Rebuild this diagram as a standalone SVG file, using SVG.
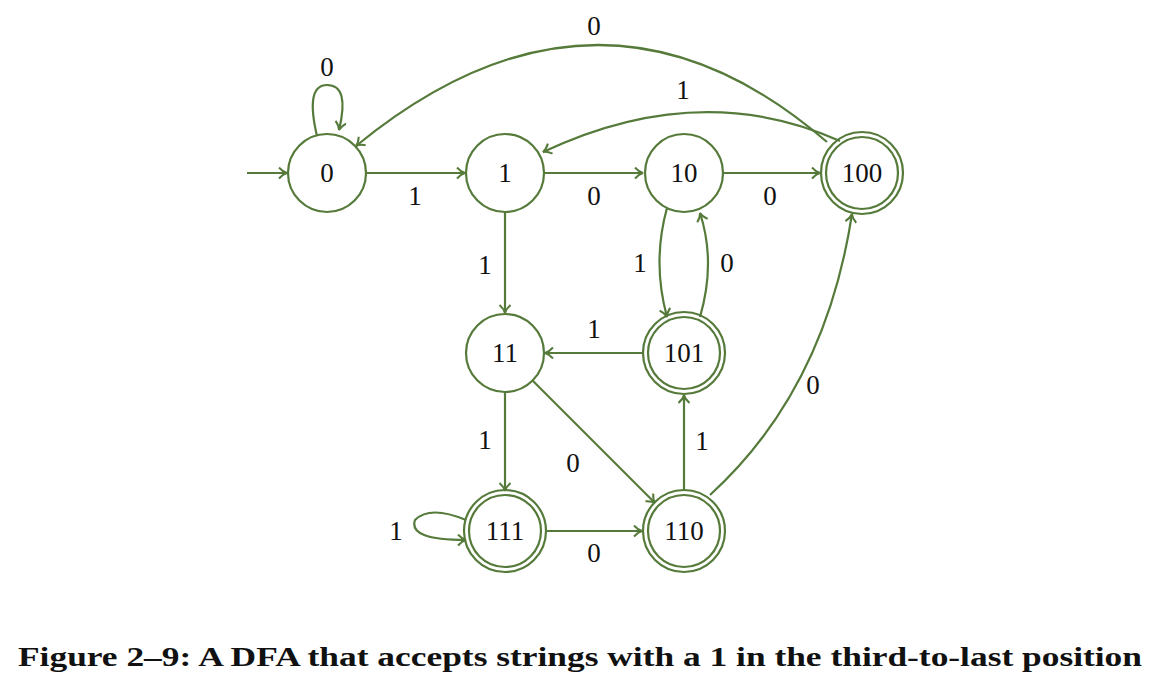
<svg xmlns="http://www.w3.org/2000/svg" width="1160" height="686" viewBox="0 0 1160 686">
<style>
.n{fill:none;stroke:#557a3a;stroke-width:2.2}
.e{fill:none;stroke:#557a3a;stroke-width:2.2;marker-end:url(#a)}
text{font-family:"Liberation Serif","DejaVu Serif",serif;font-size:27px;fill:#111;text-anchor:middle;dominant-baseline:central}
.cap{font-weight:bold;font-size:28px}
</style>
<defs><marker id="a" markerWidth="14" markerHeight="14" refX="10" refY="6" orient="auto" markerUnits="userSpaceOnUse"><path d="M2,0.5 Q6,5 10,6 Q6,7 2,11.5" fill="none" stroke="#557a3a" stroke-width="2"/></marker></defs>
<rect width="1160" height="686" fill="#fff"/>
<g id="connectors">
<path class="e" d="M247,173 H287"/>
<path class="e" d="M366,173 H465"/>
<path class="e" d="M544,173 H643"/>
<path class="e" d="M723,173 H820"/>
<path class="e" d="M505,212 V313"/>
<path class="e" d="M643,353 H545"/>
<path class="e" d="M667,208 Q652,262 667,317"/>
<path class="e" d="M700,317 Q716,262 700,213"/>
<path class="e" d="M505,392 V491"/>
<path class="e" d="M533,381 L655,503"/>
<path class="e" d="M546,531 H642"/>
<path class="e" d="M684,490 V395"/>
<path class="e" d="M710,495 Q825,390 852,214"/>
<path class="e" d="M840,141 Q700,78 543,152"/>
<path class="e" d="M827,142 Q600,-54 356,146"/>
<path class="e" d="M317,136 Q305,85 327,85 Q350,85 339,130"/>
<path class="e" d="M466,520 Q430,505 415,520 Q408,540 466,540"/>
</g>
<g id="labels">
<text x="415" y="196">1</text><text x="594" y="196">0</text><text x="770" y="196">0</text>
<text x="485" y="265">1</text><text x="594" y="329">1</text><text x="640" y="263">1</text><text x="727" y="263">0</text>
<text x="485" y="440">1</text><text x="573" y="463">0</text><text x="594" y="553">0</text><text x="702" y="441">1</text>
<text x="813" y="385">0</text><text x="683" y="90">1</text><text x="594" y="26">0</text><text x="327" y="67">0</text><text x="396" y="531">1</text>
</g>
<g id="n0"><circle class="n" cx="327" cy="173" r="39"/><text x="327" y="173">0</text></g>
<g id="n1"><circle class="n" cx="505" cy="173" r="39"/><text x="505" y="173">1</text></g>
<g id="n10"><circle class="n" cx="684" cy="173" r="39"/><text x="684" y="173">10</text></g>
<g id="n100"><circle class="n" cx="862" cy="173" r="41"/><circle class="n" cx="862" cy="173" r="36"/><text x="862" y="173">100</text></g>
<g id="n11"><circle class="n" cx="505" cy="353" r="39"/><text x="505" y="353">11</text></g>
<g id="n101"><circle class="n" cx="684" cy="353" r="41"/><circle class="n" cx="684" cy="353" r="36"/><text x="684" y="353">101</text></g>
<g id="n111"><circle class="n" cx="505" cy="531" r="41"/><circle class="n" cx="505" cy="531" r="36"/><text x="505" y="531">111</text></g>
<g id="n110"><circle class="n" cx="684" cy="531" r="41"/><circle class="n" cx="684" cy="531" r="36"/><text x="684" y="531">110</text></g>
<text class="cap" x="580" y="656" textLength="1124" lengthAdjust="spacingAndGlyphs">Figure 2–9: A DFA that accepts strings with a 1 in the third-to-last position</text>
</svg>
